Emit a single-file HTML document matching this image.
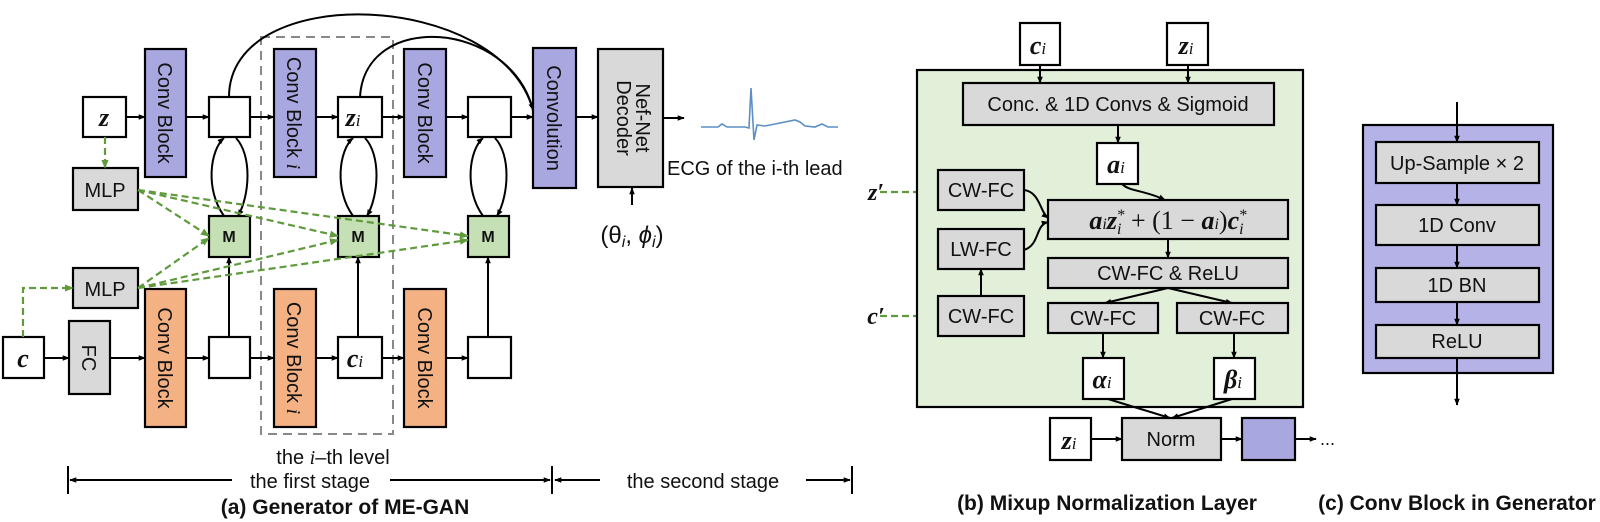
<!DOCTYPE html>
<html><head><meta charset="utf-8"><style>
html,body{margin:0;padding:0;background:#fff;}
svg{display:block;}
text{font-family:"Liberation Sans",sans-serif;fill:#111;}
.m{font-family:"Liberation Serif",serif;font-weight:bold;font-style:italic;}
</style></head><body>
<svg width="1600" height="522" viewBox="0 0 1600 522" xmlns="http://www.w3.org/2000/svg">
<defs>
<marker id="a" viewBox="0 0 10 10" refX="9" refY="5" markerWidth="7" markerHeight="7" orient="auto-start-reverse" markerUnits="userSpaceOnUse"><path d="M0,1 L10,5 L0,9z" fill="#000"/></marker>
<marker id="g" viewBox="0 0 10 10" refX="9" refY="5" markerWidth="9" markerHeight="9" orient="auto" markerUnits="userSpaceOnUse"><path d="M0,1 L10,5 L0,9z" fill="#5f9a3c"/></marker>
</defs>
<g stroke="#000" stroke-width="2.2">
<rect x="83" y="97" width="43" height="40" fill="#fff"/>
<rect x="145" y="49" width="41" height="128" fill="#a9a7e0"/>
<rect x="209" y="97" width="41" height="40" fill="#fff"/>
<rect x="274" y="49" width="42" height="128" fill="#a9a7e0"/>
<rect x="338" y="97" width="44" height="40" fill="#fff"/>
<rect x="404" y="49" width="42" height="128" fill="#a9a7e0"/>
<rect x="468" y="97" width="43" height="40" fill="#fff"/>
<rect x="533" y="48" width="43" height="140" fill="#a9a7e0"/>
<rect x="598" y="49" width="65" height="138" fill="#d9d9d9"/>
<rect x="73" y="168" width="65" height="42" fill="#d9d9d9"/>
<rect x="73" y="268" width="65" height="40" fill="#d9d9d9"/>
<rect x="209" y="216" width="41" height="41" fill="#c5e0b4"/>
<rect x="338" y="216" width="41" height="41" fill="#c5e0b4"/>
<rect x="468" y="216" width="41" height="41" fill="#c5e0b4"/>
<rect x="3" y="337" width="41" height="41" fill="#fff"/>
<rect x="69" y="321" width="41" height="73" fill="#d9d9d9"/>
<rect x="145" y="289" width="41" height="138" fill="#f4b183"/>
<rect x="209" y="337" width="41" height="41" fill="#fff"/>
<rect x="274" y="289" width="42" height="138" fill="#f4b183"/>
<rect x="338" y="337" width="44" height="41" fill="#fff"/>
<rect x="404" y="289" width="42" height="138" fill="#f4b183"/>
<rect x="468" y="337" width="43" height="41" fill="#fff"/>
</g>
<rect x="261" y="37" width="132" height="397" fill="none" stroke="#888" stroke-width="2" stroke-dasharray="9,6"/>
<g stroke="#000" stroke-width="2" fill="none" marker-end="url(#a)">
<line x1="126" y1="117" x2="145" y2="117"/>
<line x1="186" y1="117" x2="209" y2="117"/>
<line x1="250" y1="117" x2="274" y2="117"/>
<line x1="316" y1="117" x2="338" y2="117"/>
<line x1="382" y1="117" x2="404" y2="117"/>
<line x1="446" y1="117" x2="468" y2="117"/>
<line x1="511" y1="117" x2="533" y2="117"/>
<line x1="576" y1="117" x2="598" y2="117"/>
<line x1="663" y1="118" x2="684" y2="118"/>
<line x1="44" y1="358" x2="69" y2="358"/>
<line x1="110" y1="358" x2="145" y2="358"/>
<line x1="186" y1="358" x2="209" y2="358"/>
<line x1="250" y1="358" x2="274" y2="358"/>
<line x1="316" y1="358" x2="338" y2="358"/>
<line x1="382" y1="358" x2="404" y2="358"/>
<line x1="446" y1="358" x2="468" y2="358"/>
<line x1="229" y1="337" x2="229" y2="257"/>
<line x1="358" y1="337" x2="358" y2="257"/>
<line x1="488" y1="337" x2="488" y2="257"/>
<line x1="632" y1="205" x2="632" y2="188"/>
<path d="M229,97 C229,-20 500,-10 533,110"/>
<path d="M360,97 C365,10 510,20 533,110"/>
<path d="M224,216 C205,190 210,150 224,138"/>
<path d="M236,138 C252,155 250,195 238,216"/>
<path d="M353,216 C334,190 339,150 353,138"/>
<path d="M365,138 C381,155 379,195 367,216"/>
<path d="M483,216 C464,190 469,150 483,138"/>
<path d="M495,138 C511,155 509,195 497,216"/>
</g>
<g stroke="#5f9a3c" stroke-width="2.2" fill="none" stroke-dasharray="7,4" marker-end="url(#g)">
<line x1="105" y1="137" x2="105" y2="168"/>
<polyline points="23,337 23,288 73,288"/>
<line x1="138" y1="190" x2="209" y2="236"/>
<line x1="138" y1="190" x2="338" y2="236"/>
<line x1="138" y1="190" x2="468" y2="236"/>
<line x1="138" y1="288" x2="209" y2="238"/>
<line x1="138" y1="288" x2="338" y2="240"/>
<line x1="138" y1="288" x2="468" y2="240"/>
<line x1="880" y1="192" x2="938" y2="192"/>
<line x1="880" y1="316" x2="938" y2="316"/>
</g>
<text class="m" x="104" y="126" font-size="26" text-anchor="middle">z</text>
<text class="m" x="353" y="126" font-size="26" text-anchor="middle">z<tspan font-size="17" font-weight="normal">i</tspan></text>
<text class="m" x="23" y="367" font-size="26" text-anchor="middle">c</text>
<text class="m" x="355" y="367" font-size="26" text-anchor="middle">c<tspan font-size="17" font-weight="normal">i</tspan></text>
<g font-size="20">
<text transform="translate(158,113) rotate(90)" text-anchor="middle">Conv Block</text>
<text transform="translate(287,113) rotate(90)" text-anchor="middle">Conv Block <tspan font-style="italic" font-family="Liberation Serif">i</tspan></text>
<text transform="translate(418,113) rotate(90)" text-anchor="middle">Conv Block</text>
<text transform="translate(547,118) rotate(90)" text-anchor="middle">Convolution</text>
<text transform="translate(636,118) rotate(90)" text-anchor="middle">Nef-Net</text>
<text transform="translate(617,118) rotate(90)" text-anchor="middle">Decoder</text>
<text transform="translate(158,358) rotate(90)" text-anchor="middle">Conv Block</text>
<text transform="translate(287,358) rotate(90)" text-anchor="middle">Conv Block <tspan font-style="italic" font-family="Liberation Serif">i</tspan></text>
<text transform="translate(418,358) rotate(90)" text-anchor="middle">Conv Block</text>
<text transform="translate(82,358) rotate(90)" text-anchor="middle">FC</text>
<text x="105" y="197" text-anchor="middle">MLP</text>
<text x="105" y="296" text-anchor="middle">MLP</text>
<text x="667" y="175">ECG of the i-th lead</text>
<text x="333" y="464" text-anchor="middle">the <tspan font-style="italic" font-family="Liberation Serif">i</tspan>–th level</text>
<text x="310" y="488" text-anchor="middle">the first stage</text>
<text x="703" y="488" text-anchor="middle">the second stage</text>
</g>
<g font-size="16" font-weight="bold" text-anchor="middle">
<text x="229" y="242">M</text><text x="358" y="242">M</text><text x="488" y="242">M</text>
</g>
<text x="632" y="243" font-size="24" font-family="Liberation Serif" text-anchor="middle">(θ<tspan font-size="16" font-style="italic" dy="4">i</tspan><tspan dy="-4">, </tspan><tspan font-style="italic">ϕ</tspan><tspan font-size="16" font-style="italic" dy="4">i</tspan><tspan dy="-4">)</tspan></text>
<polyline points="701,127 718,127 722,124 727,127 745,127 749,128 751,88 754,140 757,125 765,126 780,123 795,120 800,122 805,126 815,127 822,124 828,127 838,127" fill="none" stroke="#5b8fc4" stroke-width="1.6"/>
<g stroke="#000" stroke-width="2">
<line x1="68" y1="466" x2="68" y2="494"/>
<line x1="552" y1="466" x2="552" y2="494"/>
<line x1="852" y1="466" x2="852" y2="494"/>
</g>
<g stroke="#000" stroke-width="2" marker-end="url(#a)">
<line x1="232" y1="480" x2="70" y2="480"/>
<line x1="390" y1="480" x2="550" y2="480"/>
<line x1="600" y1="480" x2="555" y2="480"/>
<line x1="806" y1="480" x2="850" y2="480"/>
</g>
<text x="345" y="514" font-size="21" font-weight="bold" text-anchor="middle">(a) Generator of ME-GAN</text>

<rect x="917" y="70" width="386" height="337" fill="#e2f0d9" stroke="#000" stroke-width="2.2"/>
<g stroke="#000" stroke-width="2.2">
<rect x="1020" y="23" width="40" height="42" fill="#fff"/>
<rect x="1167" y="23" width="41" height="42" fill="#fff"/>
<rect x="963" y="83" width="311" height="42" fill="#d9d9d9"/>
<rect x="1097" y="143" width="41" height="41" fill="#fff"/>
<rect x="938" y="170" width="86" height="40" fill="#d9d9d9"/>
<rect x="938" y="229" width="86" height="40" fill="#d9d9d9"/>
<rect x="938" y="296" width="86" height="40" fill="#d9d9d9"/>
<rect x="1048" y="200" width="240" height="39" fill="#d9d9d9"/>
<rect x="1048" y="258" width="240" height="30" fill="#d9d9d9"/>
<rect x="1048" y="303" width="110" height="30" fill="#d9d9d9"/>
<rect x="1177" y="303" width="111" height="30" fill="#d9d9d9"/>
<rect x="1083" y="358" width="41" height="41" fill="#fff"/>
<rect x="1214" y="358" width="41" height="41" fill="#fff"/>
<rect x="1050" y="418" width="41" height="42" fill="#fff"/>
<rect x="1122" y="418" width="99" height="42" fill="#d9d9d9"/>
<rect x="1242" y="418" width="53" height="42" fill="#a9a7e0"/>
</g>
<g stroke="#000" stroke-width="2" fill="none" marker-end="url(#a)">
<line x1="1040" y1="65" x2="1040" y2="83"/>
<line x1="1188" y1="65" x2="1188" y2="83"/>
<line x1="1118" y1="125" x2="1118" y2="143"/>
<path d="M1122,184 C1130,192 1145,190 1165,200"/>
<path d="M1024,190 C1040,192 1040,212 1048,218"/>
<path d="M1024,250 C1040,245 1035,225 1048,222"/>
<line x1="981" y1="296" x2="981" y2="269"/>
<line x1="1168" y1="239" x2="1168" y2="258"/>
<line x1="1168" y1="288" x2="1105" y2="303"/>
<line x1="1168" y1="288" x2="1232" y2="303"/>
<line x1="1103" y1="333" x2="1103" y2="358"/>
<line x1="1234" y1="333" x2="1234" y2="358"/>
<line x1="1108" y1="399" x2="1170" y2="418"/>
<line x1="1232" y1="399" x2="1172" y2="418"/>
<line x1="1091" y1="439" x2="1122" y2="439"/>
<line x1="1221" y1="439" x2="1242" y2="439"/>
<line x1="1295" y1="439" x2="1316" y2="439"/>
</g>
<text x="1320" y="445" font-size="18">...</text>
<text class="m" x="1038" y="54" font-size="26" text-anchor="middle">c<tspan font-size="17" font-weight="normal">i</tspan></text>
<text class="m" x="1186" y="54" font-size="26" text-anchor="middle">z<tspan font-size="17" font-weight="normal">i</tspan></text>
<text class="m" x="1116" y="173" font-size="26" text-anchor="middle">a<tspan font-size="17" font-weight="normal">i</tspan></text>
<text class="m" x="1102" y="388" font-size="26" text-anchor="middle">α<tspan font-size="17" font-weight="normal">i</tspan></text>
<text class="m" x="1233" y="388" font-size="26" text-anchor="middle">β<tspan font-size="17" font-weight="normal">i</tspan></text>
<text class="m" x="1069" y="449" font-size="26" text-anchor="middle">z<tspan font-size="17" font-weight="normal">i</tspan></text>
<text class="m" x="876" y="200" font-size="24" text-anchor="middle">z′</text>
<text class="m" x="876" y="324" font-size="24" text-anchor="middle">c′</text>
<text class="m" x="1168" y="229" font-size="26" text-anchor="middle">a<tspan font-size="16" font-weight="normal">i</tspan>z<tspan font-size="16" font-weight="normal" dy="5">i</tspan><tspan font-size="16" font-weight="normal" dy="-14" dx="-5">*</tspan><tspan dy="9" font-weight="normal" font-style="normal"> + (1 − </tspan>a<tspan font-size="16" font-weight="normal">i</tspan><tspan font-weight="normal" font-style="normal">)</tspan>c<tspan font-size="16" font-weight="normal" dy="5">i</tspan><tspan font-size="16" font-weight="normal" dy="-14" dx="-5">*</tspan></text>
<g font-size="20" text-anchor="middle">
<text x="1118" y="111">Conc. &amp; 1D Convs &amp; Sigmoid</text>
<text x="981" y="197">CW-FC</text>
<text x="981" y="256">LW-FC</text>
<text x="981" y="323">CW-FC</text>
<text x="1168" y="280">CW-FC &amp; ReLU</text>
<text x="1103" y="325">CW-FC</text>
<text x="1232" y="325">CW-FC</text>
<text x="1171" y="446">Norm</text>
</g>
<text x="1107" y="510" font-size="21" font-weight="bold" text-anchor="middle">(b) Mixup Normalization Layer</text>

<rect x="1363" y="125" width="190" height="248" fill="#b4b2e6" stroke="#000" stroke-width="2.2"/>
<g stroke="#000" stroke-width="2.2" fill="#d9d9d9">
<rect x="1376" y="142" width="163" height="41"/>
<rect x="1376" y="205" width="163" height="40"/>
<rect x="1376" y="268" width="163" height="34"/>
<rect x="1376" y="325" width="163" height="33"/>
</g>
<g stroke="#000" stroke-width="2" marker-end="url(#a)">
<line x1="1457" y1="102" x2="1457" y2="142"/>
<line x1="1457" y1="183" x2="1457" y2="205"/>
<line x1="1457" y1="245" x2="1457" y2="268"/>
<line x1="1457" y1="302" x2="1457" y2="325"/>
<line x1="1457" y1="358" x2="1457" y2="405"/>
</g>
<g font-size="20" text-anchor="middle">
<text x="1457" y="170">Up-Sample × 2</text>
<text x="1457" y="232">1D Conv</text>
<text x="1457" y="292">1D BN</text>
<text x="1457" y="348">ReLU</text>
</g>
<text x="1457" y="510" font-size="21" font-weight="bold" text-anchor="middle">(c) Conv Block in Generator</text>
</svg>
</body></html>
